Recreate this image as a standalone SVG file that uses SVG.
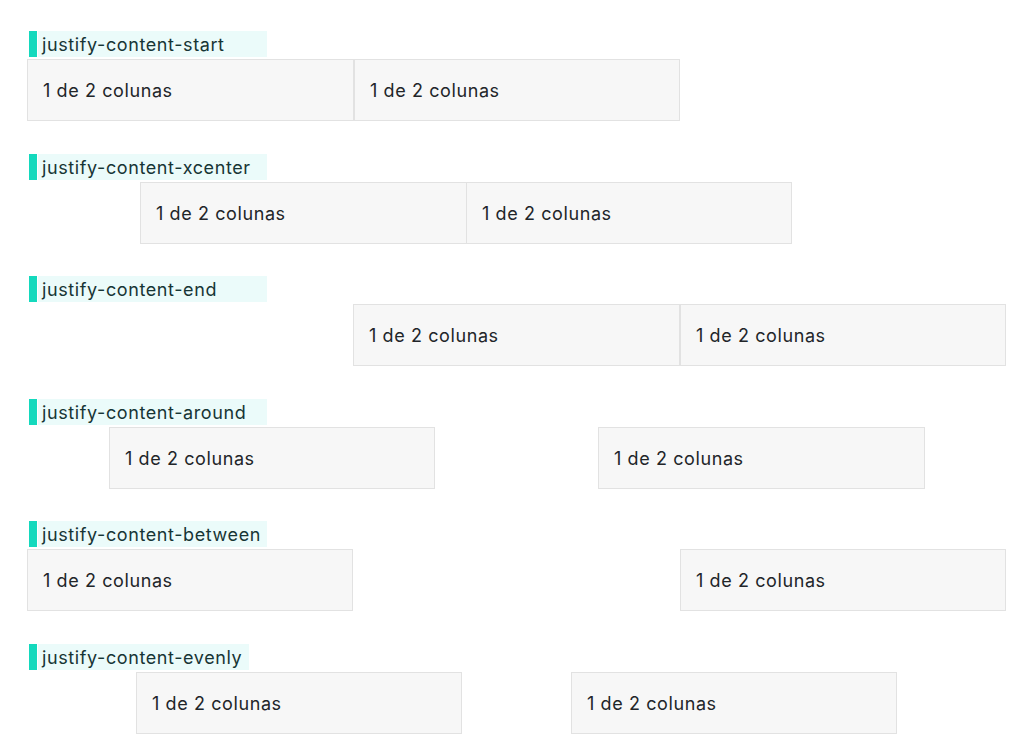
<svg xmlns="http://www.w3.org/2000/svg" width="1024" height="751" viewBox="0 0 1024 751">
<style>
.bg{fill:#ffffff}
.lb{fill:#ebfbfa}
.bar{fill:#14d9bd}
.lt{font-family:Inter,"Liberation Sans",sans-serif;font-size:18px;letter-spacing:0.6px;fill:#173535}
.box{fill:#f7f7f7;stroke:#e2e2e2;stroke-width:1}
.bt{font-family:Inter,"Liberation Sans",sans-serif;font-size:18px;letter-spacing:0.6px;fill:#222529}
</style>
<rect class="bg" x="0" y="0" width="1024" height="751"/>
<g id="row-start">
<rect class="lb" x="38" y="31" width="229" height="26"/><rect class="bar" x="29" y="31" width="8" height="26"/>
<text class="lt" x="42" y="51">justify-content-start</text>
<rect class="box" x="27.5" y="59.5" width="326" height="61"/><text class="bt" x="43" y="97">1 de 2 colunas</text>
<rect class="box" x="354.5" y="59.5" width="325" height="61"/><text class="bt" x="370" y="97">1 de 2 colunas</text>
</g>
<g id="row-xcenter">
<rect class="lb" x="38" y="154" width="229" height="26"/><rect class="bar" x="29" y="154" width="8" height="26"/>
<text class="lt" x="42" y="174">justify-content-xcenter</text>
<rect class="box" x="140.5" y="182.5" width="326" height="61"/><text class="bt" x="156" y="220">1 de 2 colunas</text>
<rect class="box" x="466.5" y="182.5" width="325" height="61"/><text class="bt" x="482" y="220">1 de 2 colunas</text>
</g>
<g id="row-end">
<rect class="lb" x="38" y="276" width="229" height="26"/><rect class="bar" x="29" y="276" width="8" height="26"/>
<text class="lt" x="42" y="296">justify-content-end</text>
<rect class="box" x="353.5" y="304.5" width="326" height="61"/><text class="bt" x="369" y="342">1 de 2 colunas</text>
<rect class="box" x="680.5" y="304.5" width="325" height="61"/><text class="bt" x="696" y="342">1 de 2 colunas</text>
</g>
<g id="row-around">
<rect class="lb" x="38" y="399" width="229" height="26"/><rect class="bar" x="29" y="399" width="8" height="26"/>
<text class="lt" x="42" y="419">justify-content-around</text>
<rect class="box" x="109.5" y="427.5" width="325" height="61"/><text class="bt" x="125" y="465">1 de 2 colunas</text>
<rect class="box" x="598.5" y="427.5" width="326" height="61"/><text class="bt" x="614" y="465">1 de 2 colunas</text>
</g>
<g id="row-between">
<rect class="lb" x="38" y="521" width="229" height="26"/><rect class="bar" x="29" y="521" width="8" height="26"/>
<text class="lt" x="42" y="541">justify-content-between</text>
<rect class="box" x="27.5" y="549.5" width="325" height="61"/><text class="bt" x="43" y="587">1 de 2 colunas</text>
<rect class="box" x="680.5" y="549.5" width="325" height="61"/><text class="bt" x="696" y="587">1 de 2 colunas</text>
</g>
<g id="row-evenly">
<rect class="lb" x="38" y="644" width="211" height="26"/><rect class="bar" x="29" y="644" width="8" height="26"/>
<text class="lt" x="42" y="664">justify-content-evenly</text>
<rect class="box" x="136.5" y="672.5" width="325" height="61"/><text class="bt" x="152" y="710">1 de 2 colunas</text>
<rect class="box" x="571.5" y="672.5" width="325" height="61"/><text class="bt" x="587" y="710">1 de 2 colunas</text>
</g>
</svg>
